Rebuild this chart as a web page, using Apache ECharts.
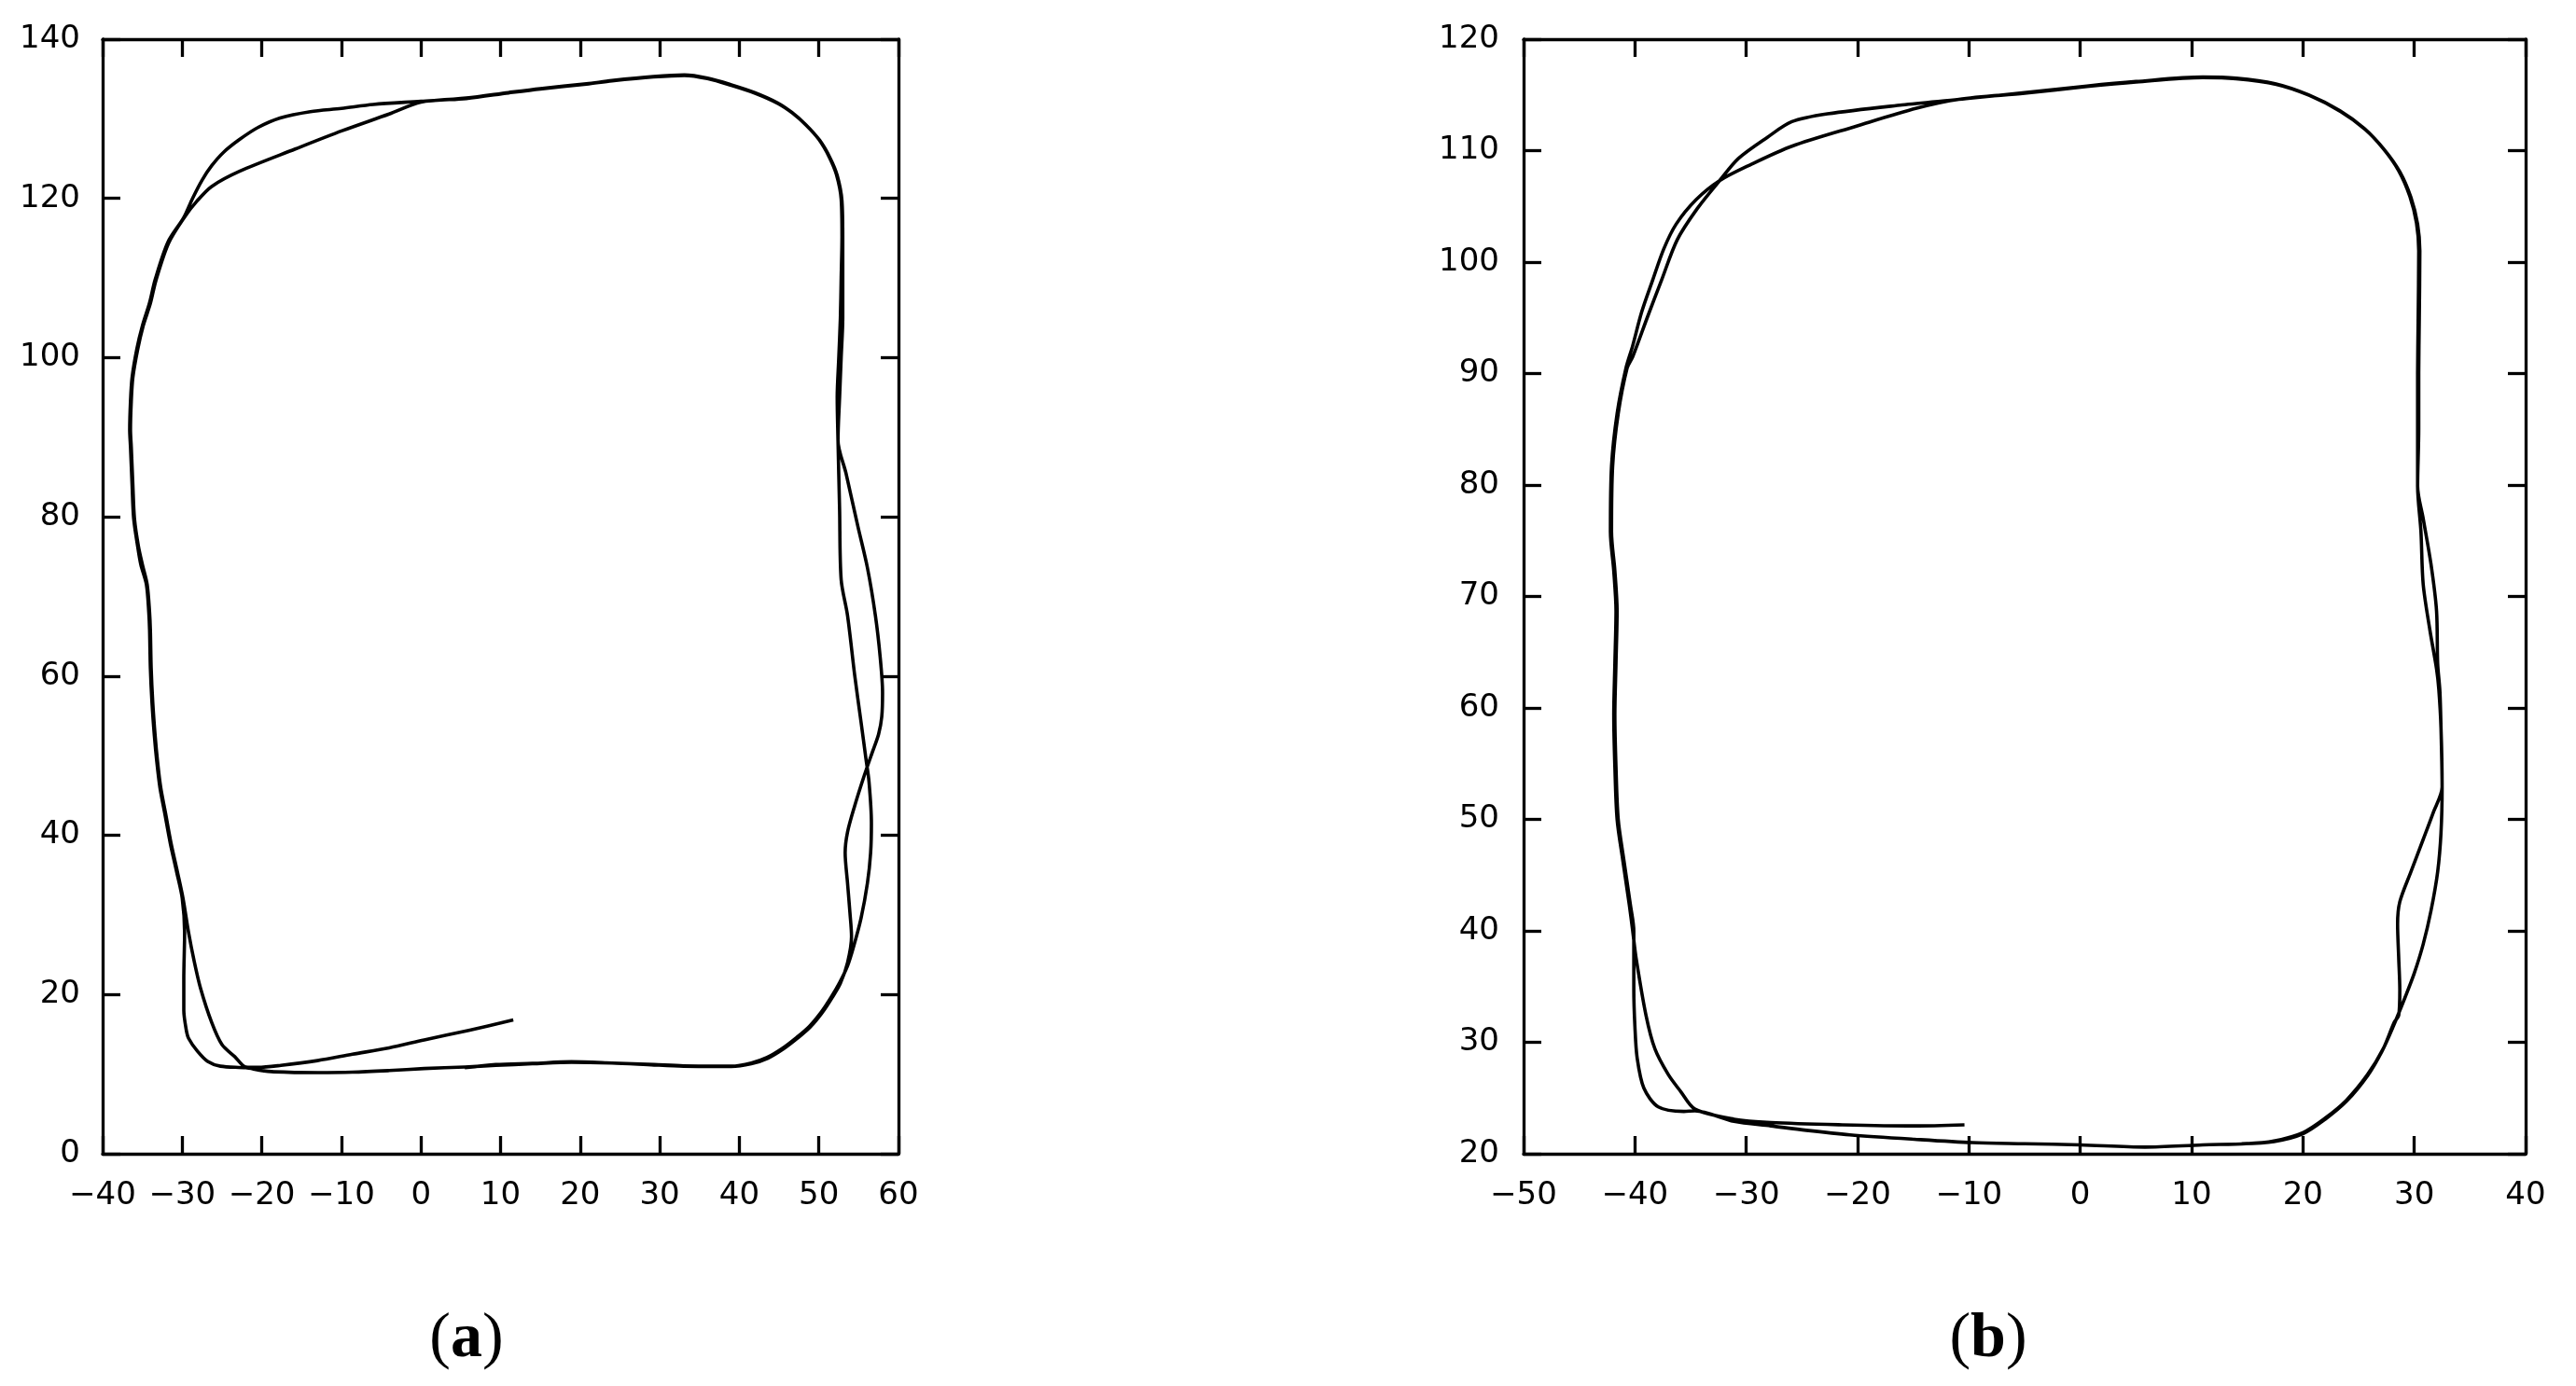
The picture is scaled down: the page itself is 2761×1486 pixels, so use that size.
<!DOCTYPE html>
<html>
<head>
<meta charset="utf-8">
<script src="https://cdn.jsdelivr.net/npm/echarts@6/dist/echarts.min.js"></script>
<style>html,body{margin:0;padding:0;background:#fff;}#c{width:2761px;height:1486px;}</style>
</head>
<body>
<div id="c"></div>
<script>
// ---------- Panel (a) trajectory segments ----------
const aBottomStart = [[5.5,10.8],[9.4,11.2],[14,11.35],[18.9,11.55],[24,11.4],[29.3,11.2],[33,11.05],[36.8,11.0],[39,11.0]];
const aCorner1 = [[41.5,11.4],[43.5,12.1],[45.5,13.3],[47.2,14.6],[48.8,16.0],[50.3,17.8],[51.5,19.6],[52.6,21.5],[53.6,23.6]];
const aRightInner = [[54.3,25.8],[55.3,29.6],[56.1,34.0],[56.5,37.8],[56.6,41.5],[56.3,46.7],[55.9,49.7],[55.3,54.2],[54.5,60.1],[53.6,67.6],[52.8,72.1],[52.6,81.0],[52.4,89.6]];
const aRightTop1 = [[52.3,95],[52.5,100],[52.7,105],[52.8,110],[52.9,115.2],[52.8,119.9],[52.2,123],[51.3,125.2],[50.0,127.4],[48.3,129.3],[46.6,130.8],[44.8,132],[41.9,133.3],[38.9,134.3],[36,135.1],[33.1,135.5],[29.2,135.3],[24,134.8],[20.8,134.4],[15,133.8],[11,133.3],[5.7,132.6],[0,132.2]];
const aTopLeftOuter = [[-6,131.8],[-10,131.3],[-13.9,130.9],[-17.7,130.1],[-20.5,128.9],[-22.8,127.4],[-24.8,125.8],[-26.3,124.1],[-27.5,122.3],[-28.7,120],[-29.8,117.6]];
const aLeft = [[-31.8,114.5],[-33.4,109.8],[-34.1,106.9],[-35.0,104],[-35.7,101.1],[-36.3,97.5],[-36.5,94.5],[-36.6,90.9],[-36.5,88.8],[-36.3,84],[-36.1,79.8],[-35.6,76.3],[-35.2,74],[-34.5,71.5],[-34.2,68],[-34.1,65.8],[-34.0,61],[-33.8,56.7],[-33.5,52.5],[-33.2,49.3],[-32.8,46],[-32.2,42.8],[-31.5,39],[-30.7,35.4],[-30.0,32.1]];
const aLeftInnerBottom = [[-29.7,27.8],[-29.8,22],[-29.8,18],[-29.5,15.6],[-29.2,14.5],[-28.1,12.9],[-26.8,11.6],[-25.2,11.0],[-22,10.8],[-20.3,10.5]];
const aBottom2 = [[-18.5,10.3],[-13,10.2],[-8.6,10.25],[-4,10.45],[0.4,10.7],[5.5,10.9],[9.4,11.1],[14,11.3],[18.9,11.5],[24,11.4],[29.3,11.15],[33,11.0],[36.8,10.95],[39,10.95]];
const aCorner2 = [[41.5,11.3],[43.6,12.0],[45.6,13.2],[47.3,14.5],[48.9,15.9],[50.4,17.7],[51.6,19.5],[52.7,21.4],[53.6,24.0]];
const aRightOuter = [[54.1,27.3],[53.9,30.3],[53.6,34.0],[53.3,37.8],[53.6,40.4],[54.5,43.7],[55.7,47.5],[56.7,50.4],[57.5,52.7],[57.9,54.9],[58.0,57.9],[57.7,62.4],[57.1,67.6],[56.1,73.6],[54.9,78.8],[53.4,85.5],[52.4,89.6]];
const aRightTop2 = [[52.6,95],[52.8,100],[53.0,105],[53.0,110],[53.0,115],[52.9,119.7],[52.3,122.9],[51.4,125.1],[50.1,127.3],[48.4,129.2],[46.7,130.7],[44.9,131.9],[42,133.2],[39,134.2],[36,135.05],[33.1,135.45],[29.2,135.25],[24,134.75],[20.8,134.35],[15,133.75],[11,133.25],[5.7,132.55],[0,132.1]];
const aTopLeftInner = [[-4,130.6],[-9.9,128.5],[-15.8,126.2],[-22.8,123.4],[-26.3,121.5],[-28.2,119.6],[-29.6,117.8]];
const aLeft2 = [[-31.7,114.4],[-33.3,109.7],[-34.0,106.8],[-34.9,104],[-35.6,101],[-36.2,97.5],[-36.4,94.5],[-36.5,90.9],[-36.4,88.8],[-36.2,84],[-36.0,79.8],[-35.5,76.3],[-35.0,74],[-34.4,71.5],[-34.1,68],[-34.0,65.8],[-33.9,61],[-33.7,56.7],[-33.4,52.5],[-33.1,49.3],[-32.7,46],[-32.1,42.8],[-31.4,39],[-30.6,35.4],[-29.9,32.1]];
const aLeftOuterBottom = [[-29.2,27.8],[-28.5,24.2],[-27.7,20.8],[-26.3,16.5],[-25,13.7],[-23.4,12.2],[-22,10.9]];
const aTail = [[-20.5,10.85],[-17.6,11.1],[-13,11.7],[-8.6,12.5],[-4,13.3],[0.4,14.3],[6,15.5],[11.6,16.8]];

// ---------- Panel (b) trajectory segments ----------
const bStartCorner = [[14.5,20.9],[17.4,21.1],[20,21.8],[22,23.1],[23.9,24.7],[25.8,27.0],[27.1,29.2],[28.1,31.4],[29.2,34.1],[30,36.2],[30.8,38.8],[31.5,41.8],[32.1,45.3],[32.4,48.8],[32.5,52.9]];
const bRightMidInner = [[32.4,58.2],[32.2,61.7],[32.0,63.5],[31.4,67],[30.8,71.1],[30.6,75.8],[30.3,79.9]];
const bRightTop1 = [[30.3,85],[30.3,90],[30.35,95],[30.4,101],[30.2,103.5],[29.6,105.9],[28.6,108.2],[27.2,110.2],[25.5,112.0],[23.3,113.6],[20.5,115.0],[17.5,116.0],[14,116.5],[11,116.6],[5,116.2],[0.6,115.8],[-5,115.2],[-10.9,114.6]];
const bTopLeftA = [[-16,114.1],[-22.7,113.3],[-25.9,112.6],[-28.1,111.2],[-30.7,109.3],[-32.4,107.3],[-34.4,104.8],[-36.2,102],[-37.6,98.4],[-38.9,95],[-40.2,91.5]];
const bLeft = [[-40.7,90.5],[-41.5,86.4],[-42,81.7],[-42.1,75.8],[-41.8,72.3],[-41.6,68.7],[-41.7,64],[-41.8,59.4],[-41.7,54.7],[-41.5,50],[-41,46.4],[-40.4,42.3],[-40.1,40]];
const bLeftInnerBottom = [[-40.1,34.7],[-40.0,31.4],[-39.8,28.6],[-39.2,25.9],[-37.9,24.2],[-35.6,23.8],[-34.6,23.85]];
const bBottom = [[-31.1,22.9],[-27.8,22.5],[-24.6,22.1],[-20.7,21.7],[-14.9,21.3],[-9.7,21.0],[-5,20.9],[0,20.8],[5.8,20.6],[11,20.8],[14.9,20.9],[17.4,21.15],[20,21.9],[22,23.2],[23.9,24.8],[25.8,27.1],[27.2,29.4],[28.2,31.8]];
const bRightLowInner = [[28.6,32.4],[28.7,34.7],[28.6,37.6],[28.5,40.6],[28.7,42.6],[29.7,45.3],[30.8,48.2],[31.7,50.6],[32.5,52.9]];
const bRightMidOuter = [[32.4,58.2],[32.3,61.5],[32.1,64],[32.0,68.7],[31.5,72.9],[30.8,77],[30.3,79.9]];
const bRightTop2 = [[30.4,85],[30.4,90],[30.45,95],[30.5,101],[30.3,103.4],[29.7,105.8],[28.7,108.1],[27.3,110.1],[25.6,111.9],[23.4,113.5],[20.6,114.95],[17.6,115.95],[14,116.45],[11,116.55],[5,116.15],[0.6,115.75],[-5,115.15],[-10.9,114.6]];
const bTopLeftB = [[-14.7,113.8],[-20.1,112.2],[-25.9,110.4],[-29.7,108.7],[-32.4,107.3],[-34.5,105.6],[-36.3,103.4],[-37.4,101.2],[-38.4,98.4],[-39.4,95.5],[-40.2,92.5]];
const bLeft2 = [[-40.8,90.5],[-41.6,86.4],[-42.1,81.7],[-42.2,75.8],[-41.9,72.3],[-41.7,68.7],[-41.8,64],[-41.9,59.4],[-41.8,54.7],[-41.6,50],[-41.1,46.4],[-40.5,42.3],[-40.2,40]];
const bLeftOuterBottom = [[-39.9,37.6],[-39,32.4],[-38.2,29.4],[-37,27.1],[-35.9,25.6],[-34.6,24.0]];
const bTail = [[-31.1,23.1],[-27.8,22.8],[-21.4,22.6],[-14.9,22.5],[-10.4,22.6]];

// ---------- Axis ticks ----------
const aXTicks = {min:-40, max:60, step:10};
const aYTicks = {min:0, max:140, step:20};
const bXTicks = {min:-50, max:40, step:10};
const bYTicks = {min:20, max:120, step:10};
const captions = ['a','b'];

const trajA = [].concat(aBottomStart, aCorner1, aRightInner, aRightTop1, aTopLeftOuter, aLeft, aLeftInnerBottom,
  aBottom2, aCorner2, aRightOuter, aRightTop2, aTopLeftInner, aLeft2, aLeftOuterBottom, aTail);
const trajB = [].concat(bStartCorner, bRightMidInner, bRightTop1, bTopLeftA, bLeft, bLeftInnerBottom,
  bBottom, bRightLowInner, bRightMidOuter, bRightTop2, bTopLeftB, bLeft2, bLeftOuterBottom, bTail);

const fmt = v => String(v).replace('-', '\u2212');
const lab = {show:true, fontSize:34, color:'#000', fontFamily:'DejaVu Sans', formatter: fmt};
function axis(dim, gi, t, pos, showLab, margin){
  return {
    gridIndex: gi, type:'value', min:t.min, max:t.max, interval:t.step, position:pos,
    axisLine:{show:true, onZero:false, lineStyle:{color:'#000', width:3.3}},
    axisTick:{show:true, inside:true, length:19, lineStyle:{color:'#000', width:3.3}},
    axisLabel: showLab ? Object.assign({margin: margin}, lab) : {show:false},
    splitLine:{show:false}
  };
}
const chart = echarts.init(document.getElementById('c'), null, {renderer:'canvas'});
const lineStyle = {color:'#000', width:3.6, join:'round', cap:'butt'};
chart.setOption({
  animation:false,
  backgroundColor:'#fff',
  grid:[
    {left:110, top:42, width:853, height:1195},
    {left:1633, top:42, width:1074, height:1195}
  ],
  xAxis:[
    axis('x',0,aXTicks,'bottom',true,28),
    axis('x',0,aXTicks,'top',false),
    axis('x',1,bXTicks,'bottom',true,28),
    axis('x',1,bXTicks,'top',false)
  ],
  yAxis:[
    axis('y',0,aYTicks,'left',true,24),
    axis('y',0,aYTicks,'right',false),
    axis('y',1,bYTicks,'left',true,26),
    axis('y',1,bYTicks,'right',false)
  ],
  series:[
    {type:'line', xAxisIndex:0, yAxisIndex:0, data:trajA, showSymbol:false, smooth:0.3, lineStyle:lineStyle},
    {type:'line', xAxisIndex:2, yAxisIndex:2, data:trajB, showSymbol:false, smooth:0.3, lineStyle:lineStyle}
  ],
  graphic:[
    {type:'text', x:500, y:1436, style:{text:'{p|(}{b|'+captions[0]+'}{p|)}', align:'center', verticalAlign:'middle',
      rich:{p:{fontFamily:'Liberation Serif', fontSize:68, fill:'#000'}, b:{fontFamily:'Liberation Serif', fontSize:68, fontWeight:'bold', fill:'#000'}}}},
    {type:'text', x:2131, y:1436, style:{text:'{p|(}{b|'+captions[1]+'}{p|)}', align:'center', verticalAlign:'middle',
      rich:{p:{fontFamily:'Liberation Serif', fontSize:68, fill:'#000'}, b:{fontFamily:'Liberation Serif', fontSize:68, fontWeight:'bold', fill:'#000'}}}}
  ]
});
</script>
</body>
</html>
